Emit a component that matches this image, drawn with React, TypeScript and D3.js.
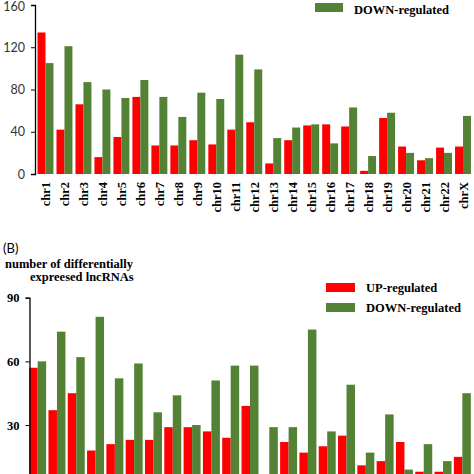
import { useEffect, useRef } from 'react'
import * as d3 from 'd3'

const chromosomes = [
  'chr1', 'chr2', 'chr3', 'chr4', 'chr5', 'chr6', 'chr7', 'chr8', 'chr9', 'chr10', 'chr11', 'chr12',
  'chr13', 'chr14', 'chr15', 'chr16', 'chr17', 'chr18', 'chr19', 'chr20', 'chr21', 'chr22', 'chrX'
]

// panel A
const upA = [134, 42, 66, 16, 35, 73, 27, 27, 32, 28, 42, 49, 10, 32, 46, 47, 45, 3, 53, 26, 13, 25, 26]
const downA = [105, 121, 87, 80, 72, 89, 73, 54, 77, 71, 113, 99, 34, 44, 47, 29, 63, 17, 58, 20, 15, 20, 55]
const ticksA = [0, 40, 80, 120, 160]

// panel B (cut off at the bottom of the picture)
const upB = [57, 37, 45, 18, 21, 23, 23, 29, 29, 27, 24, 39, 5, 22, 17, 20, 25, 11, 13, 22, 8, 8, 15]
const downB = [60, 74, 62, 81, 52, 59, 36, 44, 30, 51, 58, 58, 29, 29, 75, 27, 49, 17, 35, 9, 21, 13, 45]
const ticksB = [30, 60, 90]

const seriesKeys = ['up', 'down']
const RED = '#ff0000'
const GREEN = '#548235'
const SERIF = '"Liberation Serif", "DejaVu Serif", serif'
const SANS = 'Lato, "Liberation Sans", sans-serif'

const App = () => {
  const svgRef = useRef<SVGSVGElement>(null)

  useEffect(() => {
    if (!svgRef.current) return
    const svg = d3.select(svgRef.current)
    svg.selectAll('*').remove()

    const color = d3.scaleOrdinal<string>().domain(seriesKeys).range([RED, GREEN])

    // ---------- panel A ----------
    const xA = d3.scaleBand().domain(chromosomes).range([36, 472.5]).paddingInner(0.16).paddingOuter(0.08)
    const xA1 = d3.scaleBand().domain(seriesKeys).range([0, xA.bandwidth()])
    const yA = d3.scaleLinear().domain([0, 160]).range([174, 5])

    const gA = svg.append('g')
    const groupsA = gA.selectAll('g.grp')
      .data(chromosomes.map((c, i) => ({ c, vals: [upA[i], downA[i]] })))
      .enter()
      .append('g')
      .attr('transform', d => `translate(${xA(d.c)},0)`)
    groupsA.selectAll('rect')
      .data(d => d.vals.map((v, k) => ({ k: seriesKeys[k], v })))
      .enter()
      .append('rect')
      .attr('x', d => xA1(d.k) || 0)
      .attr('width', xA1.bandwidth())
      .attr('y', d => yA(d.v))
      .attr('height', d => yA(0) - yA(d.v))
      .attr('fill', d => color(d.k))

    // y axis A
    const axA = gA.append('g')
      .attr('transform', 'translate(35,0)')
      .call(d3.axisLeft(yA).tickValues(ticksA).tickSize(4).tickPadding(6))
    axA.select('.domain').attr('stroke', '#000').attr('stroke-width', 1.3)
    axA.selectAll('.tick line').attr('stroke', '#000')
    axA.selectAll<SVGTextElement, number>('.tick text')
      .attr('font-family', SANS)
      .attr('font-size', 12.5)
      .attr('fill', '#333')
      .attr('y', d => (d === 160 ? 1 : 0))

    // x labels A
    gA.selectAll('text.xl')
      .data(chromosomes)
      .enter()
      .append('text')
      .attr('class', 'xl')
      .attr('transform', d => `translate(${(xA(d) || 0) + xA.bandwidth() / 2 + 4.5},182) rotate(-90)`)
      .attr('text-anchor', 'end')
      .attr('font-family', SERIF)
      .attr('font-weight', 'bold')
      .attr('font-size', 12.5)
      .text(d => d)

    // legend A (only the DOWN entry is in the picture)
    gA.append('rect').attr('x', 315).attr('y', 3).attr('width', 28).attr('height', 9).attr('fill', GREEN)
    gA.append('text')
      .attr('x', 354).attr('y', 13.5)
      .attr('font-family', SERIF).attr('font-weight', 'bold').attr('font-size', 12.5)
      .text('DOWN-regulated')

    // ---------- panel B ----------
    const xB = d3.scaleBand().domain(chromosomes).range([28, 472]).paddingInner(0.12).paddingOuter(0.06)
    const xB1 = d3.scaleBand().domain(seriesKeys).range([0, xB.bandwidth()])
    const yB = d3.scaleLinear().domain([0, 90]).range([488.7, 297.7])

    const gB = svg.append('g')
    const groupsB = gB.selectAll('g.grp')
      .data(chromosomes.map((c, i) => ({ c, vals: [upB[i], downB[i]] })))
      .enter()
      .append('g')
      .attr('transform', d => `translate(${xB(d.c)},0)`)
    groupsB.selectAll('rect')
      .data(d => d.vals.map((v, k) => ({ k: seriesKeys[k], v })))
      .enter()
      .append('rect')
      .attr('x', d => xB1(d.k) || 0)
      .attr('width', xB1.bandwidth())
      .attr('y', d => yB(d.v))
      .attr('height', d => yB(0) - yB(d.v))
      .attr('fill', d => color(d.k))

    const axB = gB.append('g')
      .attr('transform', 'translate(29.5,0)')
      .call(d3.axisLeft(yB).tickValues(ticksB).tickSize(4).tickPadding(6))
    axB.select('.domain').attr('stroke', '#000').attr('stroke-width', 1.3)
    axB.selectAll('.tick line').attr('stroke', '#000')
    axB.selectAll('.tick text')
      .attr('font-family', SERIF)
      .attr('font-weight', 'bold')
      .attr('font-size', 12.5)
      .attr('fill', '#000')

    // titles B
    gB.append('text')
      .attr('x', 3).attr('y', 253)
      .attr('font-family', SANS).attr('font-size', 13)
      .text('(B)')
    gB.append('text')
      .attr('x', 5).attr('y', 267.5)
      .attr('font-family', SERIF).attr('font-weight', 'bold').attr('font-size', 12.5)
      .text('number of differentially')
    gB.append('text')
      .attr('x', 30).attr('y', 281)
      .attr('font-family', SERIF).attr('font-weight', 'bold').attr('font-size', 12.5)
      .text('expreesed lncRNAs')

    // legend B
    const legendB = [
      { key: 'up', label: 'UP-regulated', y: 283 },
      { key: 'down', label: 'DOWN-regulated', y: 303 }
    ]
    const lg = gB.selectAll('g.lg').data(legendB).enter().append('g')
    lg.append('rect')
      .attr('x', 326).attr('y', d => d.y)
      .attr('width', 29).attr('height', 9)
      .attr('fill', d => color(d.key))
    lg.append('text')
      .attr('x', 366).attr('y', d => d.y + 9)
      .attr('font-family', SERIF).attr('font-weight', 'bold').attr('font-size', 12.5)
      .text(d => d.label)
  }, [])

  return (
    <svg
      ref={svgRef}
      width={474}
      height={474}
      style={{ position: 'absolute', left: 0, top: 0, background: '#fff' }}
    />
  )
}

export default App
